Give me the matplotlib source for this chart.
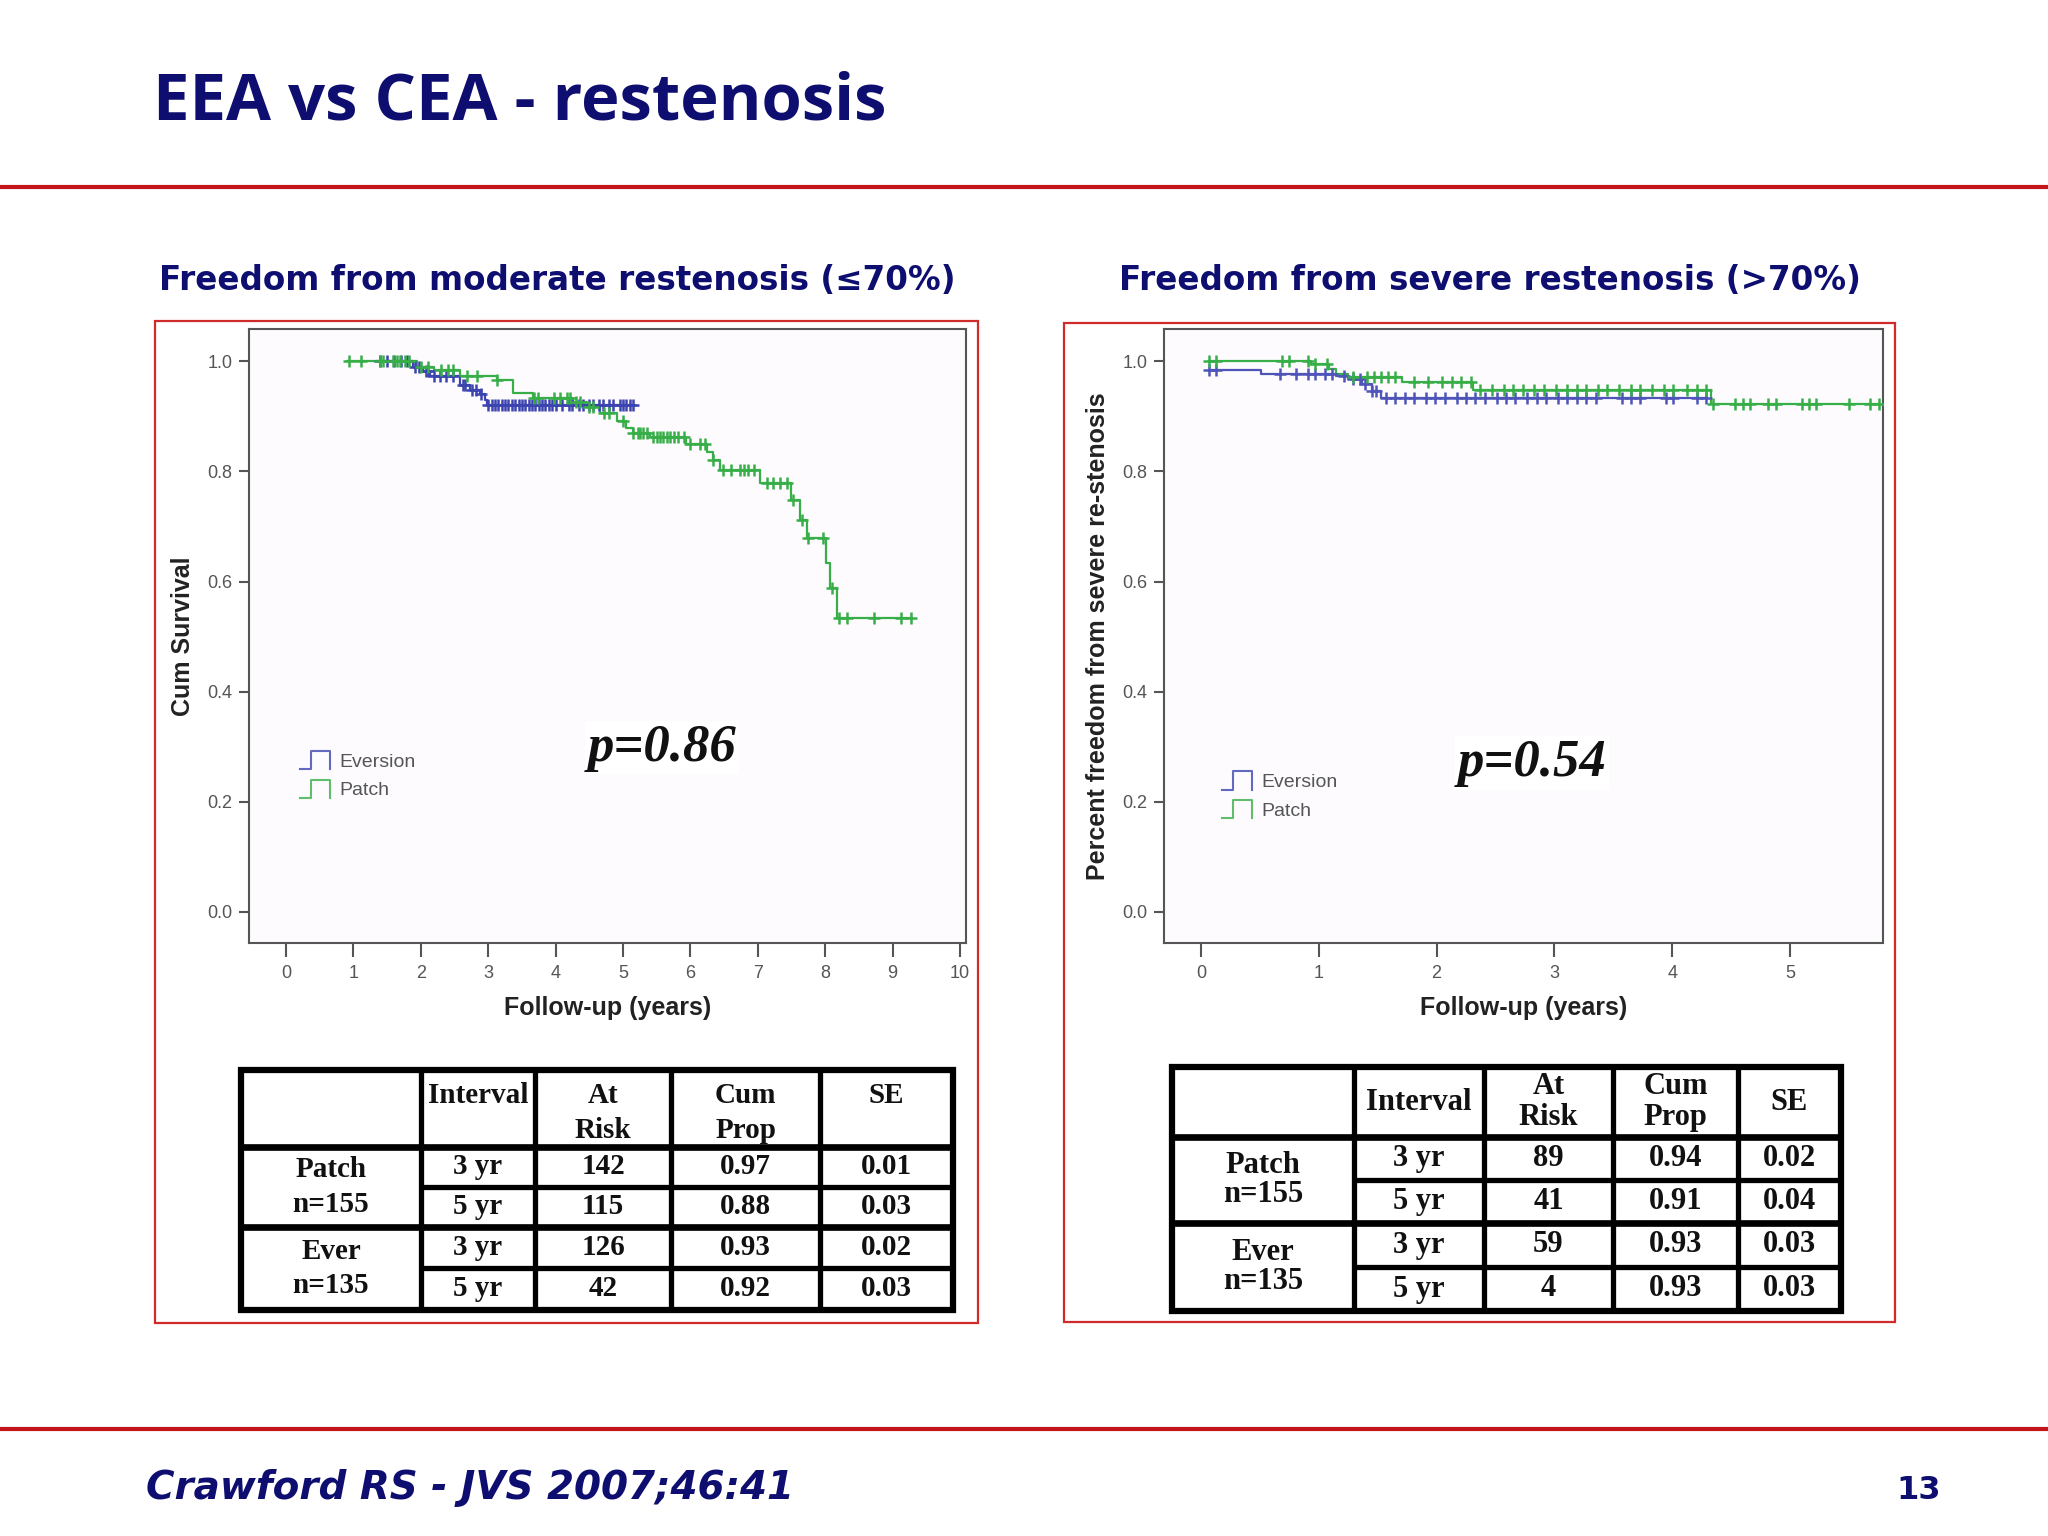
import matplotlib
matplotlib.use("Agg")
import matplotlib.pyplot as plt
import numpy as np
from matplotlib.legend_handler import HandlerBase
from matplotlib.lines import Line2D
from matplotlib.patches import Rectangle
from matplotlib.ticker import FormatStrFormatter

plt.rcParams["font.family"] = ["Liberation Sans", "DejaVu Sans"]

W, H = 2048, 1536
NAVY = "#0e0e70"
RED = "#c4151c"
BOX_RED = "#d02a2a"
BLUE = "#3c44b0"
GREEN = "#37ae48"
BLUE_R = "#4f55b8"
TITLE_FONT = ["Open Sans", "DejaVu Sans"]
SLIDE_FONT = ["DejaVu Sans"]

# ---- Kaplan-Meier data (time in years, survival) ----
# moderate restenosis (<=70%)
PATCH_MOD_T = [0.90, 1.95, 2.20, 2.58, 3.13, 3.37, 3.67, 4.26, 4.46, 4.66, 4.91, 5.05, 5.15,
               5.40, 5.94, 6.24, 6.34, 6.44, 7.03, 7.50, 7.63, 7.73, 8.02, 8.07, 8.17, 9.27]
PATCH_MOD_S = [1.00, 0.990, 0.985, 0.973, 0.967, 0.943, 0.933, 0.927, 0.918, 0.906, 0.891, 0.879, 0.870,
               0.862, 0.850, 0.835, 0.821, 0.803, 0.779, 0.749, 0.712, 0.679, 0.634, 0.589, 0.533, 0.533]
PATCH_MOD_CENS = [0.93, 1.12, 1.39, 1.44, 1.59, 1.64, 1.69, 1.77, 1.82, 2.00, 2.10, 2.30, 2.40, 2.48,
                  2.68, 2.83, 3.13, 3.68, 3.74, 3.97, 4.07, 4.17, 4.21, 4.31, 4.36, 4.50, 4.56, 4.72,
                  4.80, 5.00, 5.15, 5.22, 5.25, 5.30, 5.35, 5.45, 5.50, 5.55, 5.60, 5.65, 5.70, 5.75,
                  5.82, 5.90, 6.00, 6.14, 6.22, 6.34, 6.49, 6.61, 6.73, 6.79, 6.86, 6.94, 7.13, 7.23,
                  7.33, 7.43, 7.53, 7.65, 7.75, 7.97, 8.10, 8.20, 8.33, 8.72, 9.13, 9.27]
EVER_MOD_T = [1.35, 1.89, 2.04, 2.14, 2.58, 2.73, 2.88, 2.95, 2.98, 5.15]
EVER_MOD_S = [1.00, 0.990, 0.982, 0.973, 0.958, 0.949, 0.940, 0.930, 0.921, 0.921]
EVER_MOD_CENS = [1.39, 1.50, 1.60, 1.70, 1.80, 1.92, 1.97, 2.07, 2.10, 2.19, 2.28, 2.38, 2.48, 2.62,
                 2.66, 2.76, 2.82, 2.90, 3.00, 3.05, 3.10, 3.15, 3.20, 3.25, 3.30, 3.35, 3.40, 3.45,
                 3.50, 3.55, 3.60, 3.65, 3.70, 3.75, 3.80, 3.85, 3.90, 3.95, 4.00, 4.10, 4.20, 4.25,
                 4.35, 4.40, 4.50, 4.55, 4.65, 4.70, 4.80, 4.85, 4.95, 5.00, 5.05, 5.10, 5.15]

# severe restenosis (>70%)
PATCH_SEV_T = [0.07, 0.93, 1.09, 1.15, 1.25, 1.71, 2.31, 4.33, 5.76]
PATCH_SEV_S = [1.00, 0.996, 0.987, 0.977, 0.971, 0.962, 0.949, 0.923, 0.923]
PATCH_SEV_CENS = [0.07, 0.13, 0.69, 0.75, 0.91, 0.97, 1.07, 1.29, 1.41, 1.47, 1.53, 1.59, 1.65, 1.81,
                  1.93, 2.05, 2.13, 2.21, 2.29, 2.37, 2.47, 2.57, 2.65, 2.73, 2.83, 2.91, 3.01, 3.11,
                  3.19, 3.27, 3.37, 3.45, 3.55, 3.65, 3.73, 3.83, 3.93, 4.01, 4.13, 4.21, 4.29, 4.35,
                  4.53, 4.60, 4.66, 4.81, 4.88, 5.10, 5.16, 5.22, 5.50, 5.68, 5.76]
EVER_SEV_T = [0.07, 0.51, 1.15, 1.25, 1.37, 1.45, 1.53, 4.29]
EVER_SEV_S = [0.984, 0.977, 0.973, 0.968, 0.959, 0.947, 0.934, 0.934]
EVER_SEV_CENS = [0.07, 0.13, 0.67, 0.81, 0.91, 0.97, 1.05, 1.11, 1.21, 1.29, 1.35, 1.39, 1.45, 1.49,
                 1.57, 1.65, 1.73, 1.81, 1.91, 1.99, 2.07, 2.17, 2.25, 2.33, 2.41, 2.51, 2.59, 2.67,
                 2.77, 2.85, 2.93, 3.03, 3.11, 3.19, 3.27, 3.35, 3.57, 3.65, 3.73, 3.95, 4.01, 4.21, 4.29]

Y_TICKS = [0.0, 0.2, 0.4, 0.6, 0.8, 1.0]
X_TICKS_MOD = [0, 1, 2, 3, 4, 5, 6, 7, 8, 9, 10]
X_TICKS_SEV = [0, 1, 2, 3, 4, 5]
LEGEND_LABELS = ["Eversion", "Patch"]

# ---- life-table summaries ----
TABLE_HEADER = ["Interval", "At\nRisk", "Cum\nProp", "SE"]
GROUPS = ["Patch\nn=155", "Ever\nn=135"]
INTERVALS = ["3 yr", "5 yr", "3 yr", "5 yr"]
MOD_AT_RISK = [142, 115, 126, 42]
MOD_CUM_PROP = [0.97, 0.88, 0.93, 0.92]
MOD_SE = [0.01, 0.03, 0.02, 0.03]
SEV_AT_RISK = [89, 41, 59, 4]
SEV_CUM_PROP = [0.94, 0.91, 0.93, 0.93]
SEV_SE = [0.02, 0.04, 0.03, 0.03]


def box(x0, y0, x1, y1):
    return [x0 / W, 1 - y1 / H, (x1 - x0) / W, (y1 - y0) / H]


class StepHandler(HandlerBase):
    def create_artists(self, legend, orig_handle, xdescent, ydescent, width, height, fontsize, trans):
        fx = [0.0, 0.38, 0.38, 1.0, 1.0]
        fy = [0.0, 0.0, 1.0, 1.0, 0.0]
        xs = [-xdescent + f * width for f in fx]
        ys = [-ydescent + f * height for f in fy]
        return [Line2D(xs, ys, color=orig_handle.get_color(), lw=1.5, alpha=0.8, transform=trans)]


def surv_at(times, surv, t):
    idx = np.searchsorted(times, t, side="right") - 1
    return np.asarray(surv)[np.clip(idx, 0, len(surv) - 1)]


def draw_km(ax, times, surv, cens, color):
    ax.step(times, surv, where="post", color=color, lw=1.6, zorder=3)
    ax.plot(cens, surv_at(times, surv, cens), ls="none", marker="+", ms=9, mew=1.8,
            color=color, zorder=4)


def style_km_axes(ax, xlim, xticks, ylabel, legend_anchor):
    ax.set_facecolor("#fdfbfe")
    ax.set_xlim(*xlim)
    ax.set_ylim(-0.057, 1.059)
    ax.set_xticks(xticks)
    ax.set_yticks(Y_TICKS)
    ax.yaxis.set_major_formatter(FormatStrFormatter("%.1f"))
    for sp in ax.spines.values():
        sp.set_color("#555555")
        sp.set_linewidth(1.5)
    ax.tick_params(axis="both", direction="out", color="#555555", width=1.5,
                   labelsize=13, labelcolor="#555555")
    ax.tick_params(axis="x", length=10, pad=6)
    ax.tick_params(axis="y", length=7, pad=5)
    ax.set_xlabel("Follow-up (years)", fontsize=18, fontweight="bold", color="#222222", labelpad=10)
    ax.set_ylabel(ylabel, fontsize=18, fontweight="bold", color="#222222", labelpad=9)
    handles = [Line2D([], [], color=BLUE), Line2D([], [], color=GREEN)]
    ax.legend(handles, LEGEND_LABELS, handler_map={Line2D: StepHandler()}, frameon=False,
              loc="upper left", bbox_to_anchor=legend_anchor, borderaxespad=0, borderpad=0,
              fontsize=14, labelcolor="#555555", handlelength=1.55, handleheight=1.1,
              handletextpad=0.5, labelspacing=0.45)


def draw_table(ax, cols, rows, at_risk, cum_prop, se, fs, header_top, group_ls):
    x0, x1 = cols[0], cols[-1]
    y0, y1 = rows[0], rows[-1]
    ax.add_patch(Rectangle((x0, y0), x1 - x0, y1 - y0, fill=False, ec="black", lw=4.5))
    for c in cols[1:-1]:
        ax.plot([c, c], [y0, y1], color="black", lw=3.8, solid_capstyle="butt")
    for r in (rows[1], rows[3]):
        ax.plot([x0, x1], [r, r], color="black", lw=4.8, solid_capstyle="butt")
    for r in (rows[2], rows[4]):
        ax.plot([cols[1], x1], [r, r], color="black", lw=3.8, solid_capstyle="butt")
    tkw = dict(family="Liberation Serif", fontweight="bold", fontsize=fs, color="#111111",
               ha="center", multialignment="center")
    for i, label in enumerate(TABLE_HEADER):
        cx = (cols[i + 1] + cols[i + 2]) / 2
        if header_top:
            ax.text(cx, rows[0] + 12, label, va="top", linespacing=1.4, **tkw)
        else:
            ax.text(cx, (rows[0] + rows[1]) / 2, label, va="center", linespacing=1.05, **tkw)
    for g, label in enumerate(GROUPS):
        cy = (rows[1 + 2 * g] + rows[3 + 2 * g]) / 2
        ax.text((cols[0] + cols[1]) / 2, cy, label, va="center", linespacing=group_ls, **tkw)
    for r in range(4):
        cy = (rows[1 + r] + rows[2 + r]) / 2
        vals = [INTERVALS[r], str(at_risk[r]), "{:.2f}".format(cum_prop[r]), "{:.2f}".format(se[r])]
        for i, v in enumerate(vals):
            ax.text((cols[i + 1] + cols[i + 2]) / 2, cy, v, va="center", **tkw)


fig = plt.figure(figsize=(20.48, 15.36), dpi=100)
canvas = fig.add_axes([0, 0, 1, 1])
canvas.set_xlim(0, W)
canvas.set_ylim(H, 0)
canvas.axis("off")

# slide furniture
canvas.text(153, 119, "EEA vs CEA - restenosis", family=TITLE_FONT, fontweight="bold",
            fontsize=47, color=NAVY, va="baseline")
canvas.plot([0, W], [187, 187], color=RED, lw=3)
canvas.plot([0, W], [1429, 1429], color=RED, lw=3)
canvas.text(159, 290, "Freedom from moderate restenosis (≤70%)", family=SLIDE_FONT,
            fontweight="bold", fontsize=23.5, color=NAVY, va="baseline")
canvas.text(1119, 290, "Freedom from severe restenosis (>70%)", family=SLIDE_FONT,
            fontweight="bold", fontsize=23.5, color=NAVY, va="baseline")
canvas.text(146, 1499, "Crawford RS - JVS 2007;46:41", family=SLIDE_FONT, fontweight="bold",
            style="italic", fontsize=28, color=NAVY, va="baseline")
canvas.text(1941, 1499, "13", family=SLIDE_FONT, fontweight="bold", fontsize=23,
            color=NAVY, va="baseline", ha="right")
canvas.add_patch(Rectangle((155, 321), 823, 1002, fill=False, ec=BOX_RED, lw=1.6))
canvas.add_patch(Rectangle((1064, 323), 831, 999, fill=False, ec=BOX_RED, lw=1.6))

draw_table(canvas, [241, 421, 535, 671, 820, 953], [1070, 1147, 1187, 1227, 1268, 1310],
           MOD_AT_RISK, MOD_CUM_PROP, MOD_SE, 21, True, 1.35)
draw_table(canvas, [1172, 1354, 1484, 1613, 1738, 1841], [1067, 1137, 1180, 1223, 1267, 1311],
           SEV_AT_RISK, SEV_CUM_PROP, SEV_SE, 22, False, 1.0)

# moderate restenosis KM plot
ax1 = fig.add_axes(box(249, 329, 966, 943))
draw_km(ax1, EVER_MOD_T, EVER_MOD_S, EVER_MOD_CENS, BLUE)
draw_km(ax1, PATCH_MOD_T, PATCH_MOD_S, PATCH_MOD_CENS, GREEN)
style_km_axes(ax1, (-0.549, 10.09), X_TICKS_MOD, "Cum Survival", (0.071, 0.313))
ax1.text(5.58, 0.298, "p=0.86", family="Liberation Serif", fontweight="bold", style="italic",
         fontsize=38, color="#111111", ha="center", va="center",
         bbox=dict(fc="white", ec="none", pad=2))

# severe restenosis KM plot
ax2 = fig.add_axes(box(1164, 329, 1883, 943))
draw_km(ax2, EVER_SEV_T, EVER_SEV_S, EVER_SEV_CENS, BLUE_R)
draw_km(ax2, PATCH_SEV_T, PATCH_SEV_S, PATCH_SEV_CENS, GREEN)
style_km_axes(ax2, (-0.314, 5.79), X_TICKS_SEV, "Percent freedom from severe re-stenosis",
              (0.080, 0.280))
ax2.text(2.81, 0.27, "p=0.54", family="Liberation Serif", fontweight="bold", style="italic",
         fontsize=38, color="#111111", ha="center", va="center",
         bbox=dict(fc="white", ec="none", pad=2))

fig.savefig("out.png", dpi=100, facecolor="white")
